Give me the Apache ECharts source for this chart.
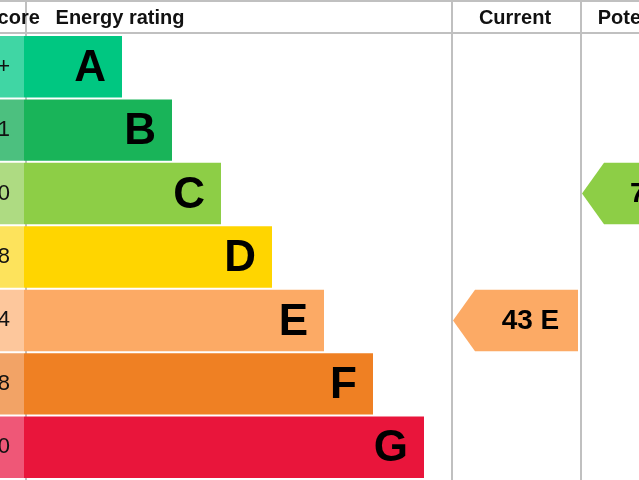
<!DOCTYPE html><html><head><meta charset="utf-8">
<script src="https://cdn.jsdelivr.net/npm/echarts@6/dist/echarts.min.js"></script>
<style>html,body{margin:0;padding:0;background:#fff}#c{width:639px;height:480px}</style></head><body><div id="c"></div>
<script>
var bands = ['A','B','C','D','E','F','G'];
var scoreRanges = ['92+','81-91','69-80','55-68','39-54','21-38','1-20'];
var barEnds = [122,172,221,272,324,373,424];
var bandColors = ['#00c781','#19b459','#8dce46','#ffd500','#fcaa65','#ef8023','#e9153b'];
var scoreColors = ['#40d6a4','#4cc07f','#aedb82','#fde35c','#fdc79c','#f2a366','#ef5777'];
var currentRating = {value:43, band:'E'};
var potentialRating = {value:78, band:'C'};
var headers = [{t:'Score',x:12},{t:'Energy rating',x:120},{t:'Current',x:515},{t:'Potential',x:640}];
var colLines = [25,451,580];

var chart = echarts.init(document.getElementById('c'));
var F = 'Liberation Sans, Arial, sans-serif';
function bandRender(params, api){
  var i = params.dataIndex;
  var y = api.coord([0,i])[1], h = api.size([0,1])[1];
  var x0 = api.coord([0,i])[0], xs = api.coord([24,i])[0], xe = api.coord([barEnds[i],i])[0];
  return {type:'group',children:[
    {type:'rect',shape:{x:x0,y:y-h/2+1,width:xs-x0,height:h-2},style:{fill:scoreColors[i]}},
    {type:'rect',shape:{x:xs,y:y-h/2+1,width:xe-xs,height:h-2},style:{fill:bandColors[i]}},
    {type:'text',style:{text:scoreRanges[i],x:xs-14,y:y,align:'right',verticalAlign:'middle',font:'22px '+F,fill:'#111'},clipPath:{type:'rect',shape:{x:0,y:y-h/2,width:xs,height:h}}},
    {type:'text',style:{text:bands[i],x:xe-16,y:y+2,align:'right',verticalAlign:'middle',font:'bold 44px '+F,fill:'#000'}}
  ]};
}
function arrowRender(left,right,rating){
  return function(params, api){
    var i = bands.indexOf(rating.band);
    var y = api.coord([0,i])[1], h = api.size([0,1])[1];
    var xl = api.coord([left,i])[0], xr = api.coord([right,i])[0];
    var t = y-h/2+1, b = y+h/2-1;
    return {type:'group',children:[
      {type:'polygon',shape:{points:[[xl,y],[xl+22,t],[xr,t],[xr,b],[xl+22,b]]},style:{fill:bandColors[i]}},
      {type:'text',style:{text:rating.value+' '+rating.band,x:(xl+22+xr)/2+4,y:y+1,align:'center',verticalAlign:'middle',font:'bold 28px '+F,fill:'#000'}}
    ]};
  };
}
var graphics = [];
graphics.push({type:'rect',shape:{x:0,y:0,width:639,height:2},style:{fill:'#c0c0c0'}});
graphics.push({type:'rect',shape:{x:0,y:32,width:639,height:2},style:{fill:'#c0c0c0'}});
colLines.forEach(function(x){graphics.push({type:'rect',shape:{x:x,y:0,width:2,height:480},style:{fill:'#c0c0c0'}});});
headers.forEach(function(h){graphics.push({type:'text',style:{text:h.t,x:h.x,y:18,align:'center',verticalAlign:'middle',font:'bold 20px '+F,fill:'#111'}});});
chart.setOption({
  animation:false,
  grid:{left:0,right:0,top:35,bottom:1},
  xAxis:{type:'value',min:0,max:639,show:false},
  yAxis:{type:'category',data:bands,inverse:true,show:false},
  series:[
    {type:'custom',renderItem:bandRender,data:bands.map(function(b,i){return [barEnds[i],i];})},
    {type:'custom',renderItem:arrowRender(453,578,currentRating),data:[[0,0]]},
    {type:'custom',renderItem:arrowRender(582,707,potentialRating),data:[[0,0]]}
  ],
  graphic:graphics
});
</script></body></html>
